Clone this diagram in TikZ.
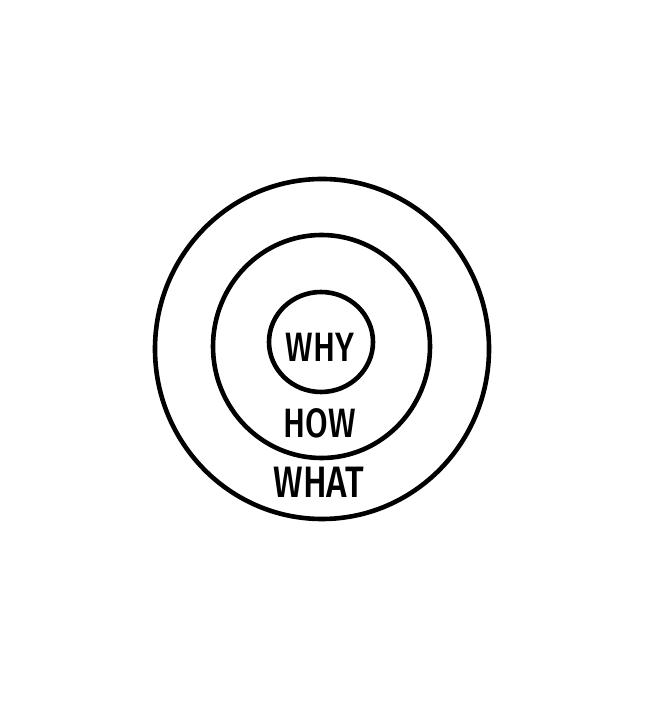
\documentclass[tikz,border=0pt]{standalone}
\usepackage{fontspec}
\setmainfont{Fira Sans}[UprightFont={* Medium}]
\begin{document}
\begin{tikzpicture}[x=1pt,y=1pt,
  ring/.style={draw=black,line width=4.6pt},
  lbl/.style={font=\fontsize{41}{41}\selectfont, inner sep=0pt, xscale=0.8, transform shape}]
\useasboundingbox (0,0) rectangle (651,720);
\fill[white] (0,0) rectangle (651,720);
\draw[ring] (322,371) ellipse [x radius=167, y radius=170];
\draw[ring] (321.5,373.5) ellipse [x radius=108.5, y radius=111.5];
\draw[ring] (321,378) ellipse [x radius=52, y radius=50];
\node[lbl] (why) at (320,373) {WHY};
\node[lbl] (how) at (320,297) {HOW};
\node[lbl, font=\fontsize{44}{44}\selectfont] (what) at (319,238) {WHAT};
\end{tikzpicture}
\end{document}
